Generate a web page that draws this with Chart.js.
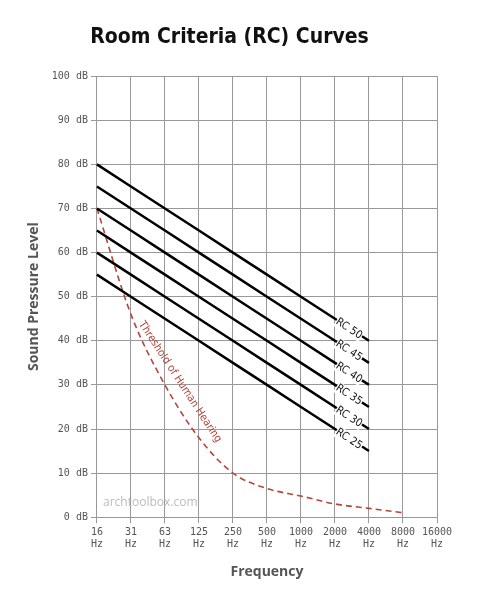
<!DOCTYPE html>
<html><head><meta charset="utf-8">
<script src="https://cdn.jsdelivr.net/npm/chart.js@4"></script>
<style>body{margin:0;background:#fff}#wrap{width:480px;height:600px}</style>
</head><body><div id="wrap"><canvas id="c"></canvas></div>
<script>
const freqs = ["16", "31", "63", "125", "250", "500", "1000", "2000", "4000", "8000", "16000"];
const rcLevels = [50, 45, 40, 35, 30, 25];
const rcStarts = [80, 75, 70, 65, 60, 55];
const threshold = [70, 46, 30, 18, 10, 6.5, 4.8, 3, 2, 1, null];

// RC curves drop 5 dB per octave from 16 Hz to 4000 Hz
function rcSeries(rc) {
  const start = rcStarts[rcLevels.indexOf(rc)];
  return [start, start - 5, start - 10, start - 15, start - 20, start - 25, start - 30, start - 35, start - 40, null, null];
}

const labelPlugin = {
  id: "labels",
  afterDatasetsDraw(chart) {
    const ctx = chart.ctx, x = chart.scales.x, y = chart.scales.y;
    ctx.save();
    rcLevels.forEach((rc) => {
      const d = rcSeries(rc);
      const x1 = x.getPixelForValue(7), y1 = y.getPixelForValue(d[7]);
      const x2 = x.getPixelForValue(8), y2 = y.getPixelForValue(d[8]);
      const ang = Math.atan2(y2 - y1, x2 - x1);
      ctx.save();
      ctx.translate((x1 + x2) / 2 - 3, (y1 + y2) / 2 - 1);
      ctx.rotate(ang);
      ctx.font = "11px 'Liberation Sans Narrow', 'DejaVu Sans Condensed', sans-serif";
      ctx.fillStyle = "#fff";
      ctx.fillRect(-15, -6, 30, 12);
      ctx.fillStyle = "#111";
      ctx.textAlign = "center"; ctx.textBaseline = "middle";
      ctx.fillText("RC " + rc, 0, 0);
      ctx.restore();
    });
    ctx.save();
    ctx.translate(180, 382);
    ctx.rotate(Math.atan2(110, 72));
    ctx.font = "11px 'Liberation Sans Narrow', 'DejaVu Sans Condensed', sans-serif";
    ctx.fillStyle = "#b5473a";
    ctx.textAlign = "center"; ctx.textBaseline = "middle";
    ctx.fillText("Threshold of Human Hearing", 0, 0);
    ctx.restore();
    ctx.font = "12px 'Open Sans', sans-serif";
    ctx.fillStyle = "#bbb";
    ctx.fillText("archtoolbox.com", 103, 506);
    ctx.restore();
  }
};

const datasets = rcLevels.map(rc => ({
  data: rcSeries(rc), borderColor: "#000", borderWidth: 2.5, pointRadius: 0, tension: 0
}));
datasets.push({
  data: threshold, borderColor: "#b5473a", borderWidth: 1.6, borderDash: [6, 4],
  pointRadius: 0, cubicInterpolationMode: "monotone"
});

new Chart(document.getElementById("c"), {
  type: "line",
  data: { labels: freqs, datasets },
  plugins: [labelPlugin],
  options: {
    responsive: true, maintainAspectRatio: false, animation: false,
    layout: { padding: { left: 22, right: 43, top: 13, bottom: 16 } },
    plugins: {
      legend: { display: false }, tooltip: { enabled: false },
      title: {
        display: true, text: "Room Criteria (RC) Curves", color: "#111",
        font: { size: 21, weight: "bold", family: "'Liberation Sans Narrow', 'DejaVu Sans Condensed', sans-serif" },
        padding: { top: 12, bottom: 26 }
      }
    },
    scales: {
      x: {
        offset: false,
        grid: { color: "#999", lineWidth: 1, drawTicks: true, tickLength: 6 },
        border: { color: "#999" },
        ticks: {
          color: "#555", maxRotation: 0, autoSkip: false,
          font: { size: 10, family: "'DejaVu Sans Mono', monospace" },
          callback: (v, i) => [freqs[i], "Hz"]
        },
        title: { display: true, text: "Frequency", color: "#555", font: { size: 14, weight: "bold", family: "'Open Sans', sans-serif" }, padding: { top: 10 } }
      },
      y: {
        min: 0, max: 100,
        grid: { color: "#999", lineWidth: 1, tickLength: 6 },
        border: { color: "#999" },
        ticks: {
          stepSize: 10, color: "#555",
          font: { size: 10, family: "'DejaVu Sans Mono', monospace" },
          callback: v => v + " dB"
        },
        title: { display: true, text: "Sound Pressure Level", color: "#555", font: { size: 14, weight: "bold", family: "'Open Sans', sans-serif" }, padding: { bottom: 6 } }
      }
    }
  }
});
</script></body></html>
